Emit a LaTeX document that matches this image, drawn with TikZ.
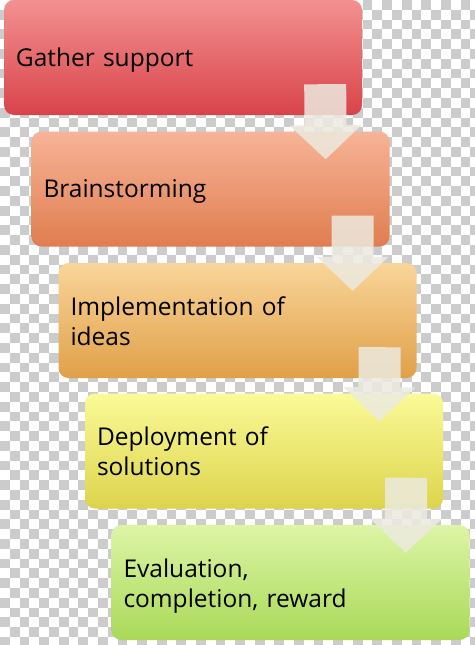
\documentclass[tikz,border=0pt]{standalone}
\usepackage{fontspec}
\setmainfont{Open Sans}
\usepackage{tikz}
\usetikzlibrary{positioning, arrows.meta, calc}

\definecolor{checkgray}{RGB}{204,204,204}
\definecolor{redtop}{RGB}{243,145,144}
\definecolor{redbot}{RGB}{216,67,74}
\definecolor{orangetop}{RGB}{247,180,151}
\definecolor{orangebot}{RGB}{224,125,80}
\definecolor{goldtop}{RGB}{249,213,154}
\definecolor{goldbot}{RGB}{224,160,72}
\definecolor{yellowtop}{RGB}{250,250,152}
\definecolor{yellowbot}{RGB}{221,212,76}
\definecolor{greentop}{RGB}{221,245,166}
\definecolor{greenbot}{RGB}{169,217,88}
\definecolor{arrowfill}{RGB}{236,234,224}

\begin{document}
\begin{tikzpicture}[
    x=1pt, y=-1pt,
    stage/.style={rectangle, rounded corners=10pt, minimum width=358pt,
                  minimum height=115pt, text width=334pt, inner xsep=12pt,
                  align=left, font=\fontsize{24.5}{30}\selectfont},
    oneline/.style={stage, text depth=0pt},
    twoline/.style={stage, text depth=29pt},
    flow/.style={draw=arrowfill, line width=42pt,
                 -{Triangle[width=70pt, length=34pt]}}
]

    \useasboundingbox (0,0) rectangle (474,645);

    % Transparent background
    \fill[white] (0,0) rectangle (474,645);
    \foreach \i in {0,...,48}{
        \foreach \j in {0,...,65}{
            \ifodd\numexpr\i+\j\relax
                \fill[checkgray] (\i*9.8,\j*9.8) rectangle ++(9.8,9.8);
            \fi
        }
    }

    % Stages
    \node[oneline, top color=redtop, bottom color=redbot] (gather) at (183, 57.5)
        {Gather support};
    \node[oneline, top color=orangetop, bottom color=orangebot] (brain) at (210.5, 189)
        {Brainstorming};
    \node[twoline, top color=goldtop, bottom color=goldbot] (impl) at (237.5, 320.5)
        {Implementation of\\ideas};
    \node[twoline, top color=yellowtop, bottom color=yellowbot] (deploy) at (264, 451)
        {Deployment of\\solutions};
    \node[twoline, top color=greentop, bottom color=greenbot] (eval) at (290.5, 582.5)
        {Evaluation,\\completion, reward};

    % Arrows between stages
    \foreach \a/\b in {gather/brain, brain/impl, impl/deploy, deploy/eval}{
        \coordinate (\a-out) at ($(\a.south east)+(-37,-31)$);
        \coordinate (\a-in) at ($(\b.north east)+(-64,28)$);
        \begin{scope}[transparency group, opacity=0.85]
            \draw[flow] (\a-out) -- (\a-in);
        \end{scope}
    }

\end{tikzpicture}
\end{document}
